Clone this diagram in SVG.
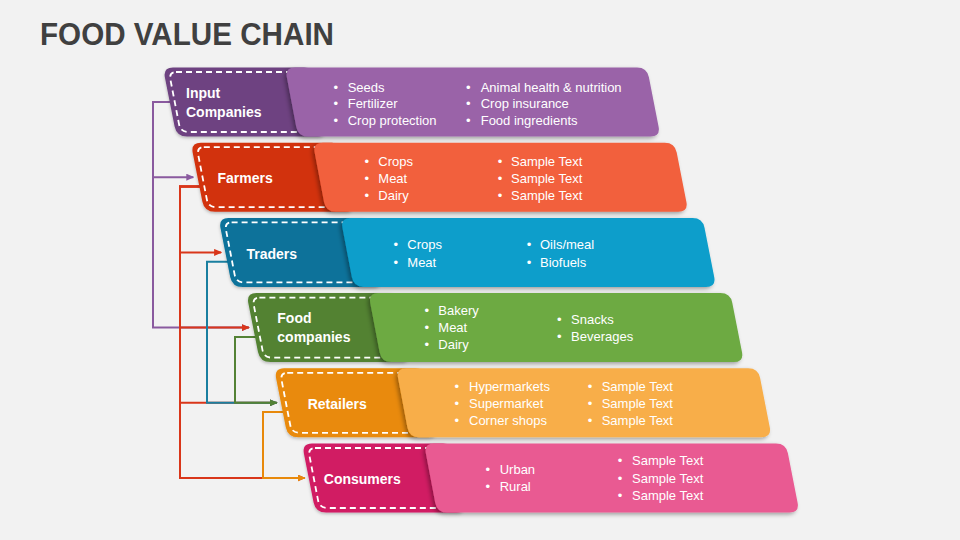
<svg xmlns="http://www.w3.org/2000/svg" width="960" height="540" viewBox="0 0 960 540">
<style>
.title{font-family:"Liberation Sans",Arial,sans-serif;font-weight:bold;font-size:31px;fill:#404040}
.lbl{font-family:"Liberation Sans",Arial,sans-serif;font-weight:bold;font-size:14px;fill:#fff}
.bt{font-family:"Liberation Sans",Arial,sans-serif;font-size:13px;fill:#fff}
.bu{text-anchor:middle}
.dash{fill:none;stroke:#fff;stroke-width:1.8;stroke-dasharray:6 4}
.cn{fill:none;stroke-width:2}
</style>
<defs>
<filter id="shL" x="-10%" y="-20%" width="120%" height="150%">
<feDropShadow dx="-2" dy="2" stdDeviation="2" flood-color="#000" flood-opacity="0.35"/>
</filter>
<filter id="shD" x="-10%" y="-20%" width="120%" height="150%">
<feDropShadow dx="0" dy="1.5" stdDeviation="1.5" flood-color="#000" flood-opacity="0.25"/>
</filter>
<path id="dk" d="M10,0 L141,0 Q150,0 151.68,8.84 L161.42,60.16 Q163.1,69 154.1,69 L24.1,69 Q13.6,69 11.6,59 L1.9,10 Q0,0 10,0 Z"/>
<path id="lt" d="M132,0 L474,0 Q484,0 485.9,9.82 L495.6,59.18 Q497.5,69 487.5,69 L145.1,69 Q135.1,69 133.23,59.18 L123.87,9.82 Q122,0 132,0 Z"/>
<path id="ds" d="M13,4.5 L143,4.5 Q150,4.5 151.31,11.38 L160.09,57.62 Q161.4,64.5 154.4,64.5 L25.4,64.5 Q17.6,64.5 16.1,57 L7.4,12 Q6,4.5 13,4.5 Z"/>
<marker id="aP" viewBox="0 0 8 7" refX="7" refY="3.5" markerWidth="8" markerHeight="7" markerUnits="userSpaceOnUse" orient="auto"><path d="M0,0 L8,3.5 L0,7 Z" fill="#8A5A9F"/></marker>
<marker id="aR" viewBox="0 0 8 7" refX="7" refY="3.5" markerWidth="8" markerHeight="7" markerUnits="userSpaceOnUse" orient="auto"><path d="M0,0 L8,3.5 L0,7 Z" fill="#D9361A"/></marker>
<marker id="aT" viewBox="0 0 8 7" refX="7" refY="3.5" markerWidth="8" markerHeight="7" markerUnits="userSpaceOnUse" orient="auto"><path d="M0,0 L8,3.5 L0,7 Z" fill="#1A7FA0"/></marker>
<marker id="aG" viewBox="0 0 8 7" refX="7" refY="3.5" markerWidth="8" markerHeight="7" markerUnits="userSpaceOnUse" orient="auto"><path d="M0,0 L8,3.5 L0,7 Z" fill="#548235"/></marker>
<marker id="aO" viewBox="0 0 8 7" refX="7" refY="3.5" markerWidth="8" markerHeight="7" markerUnits="userSpaceOnUse" orient="auto"><path d="M0,0 L8,3.5 L0,7 Z" fill="#E8890B"/></marker>
</defs>
<rect width="960" height="540" fill="#F2F2F2"/>
<text class="title" x="40" y="45" textLength="294" lengthAdjust="spacingAndGlyphs">FOOD VALUE CHAIN</text>

<g id="connectors">
<path class="cn" stroke="#8A5A9F" marker-end="url(#aP)" d="M172,102 H153 V177.2 H193.3"/>
<path class="cn" stroke="#8A5A9F" marker-end="url(#aP)" d="M172,102 H153 V327.6 H248.9"/>
<path class="cn" stroke="#D9361A" marker-end="url(#aR)" d="M203,186.5 H180 V252.4 H221.1"/>
<path class="cn" stroke="#D9361A" marker-end="url(#aR)" d="M203,186.5 H180 V327.6 H248.9"/>
<path class="cn" stroke="#D9361A" marker-end="url(#aR)" d="M203,186.5 H180 V402.8 H276.7"/>
<path class="cn" stroke="#D9361A" marker-end="url(#aR)" d="M203,186.5 H180 V478 H304.5"/>
<path class="cn" stroke="#1A7FA0" marker-end="url(#aT)" d="M231,261.7 H207 V402.8 H276.7"/>
<path class="cn" stroke="#548235" marker-end="url(#aG)" d="M258,336.9 H235 V402.8 H276.7"/>
<path class="cn" stroke="#E8890B" marker-end="url(#aO)" d="M286,412.1 H263 V478 H304.5"/>
</g>

<g id="input-companies">
<g transform="translate(163,67.5)">
<use href="#dk" fill="#6E4381" filter="url(#shD)"/>
<use href="#ds" class="dash"/>
<use href="#lt" fill="#9A64A8" filter="url(#shL)"/>
</g>
<text class="lbl" x="186" y="98">Input</text>
<text class="lbl" x="186" y="117">Companies</text>
<text class="bt"><tspan class="bu" x="335.7" y="91.5">•</tspan><tspan x="347.7" y="91.5">Seeds</tspan></text>
<text class="bt"><tspan class="bu" x="335.7" y="108.3">•</tspan><tspan x="347.7" y="108.3">Fertilizer</tspan></text>
<text class="bt"><tspan class="bu" x="335.7" y="125">•</tspan><tspan x="347.7" y="125">Crop protection</tspan></text>
<text class="bt"><tspan class="bu" x="468.3" y="91.5">•</tspan><tspan x="480.7" y="91.5">Animal health &amp; nutrition</tspan></text>
<text class="bt"><tspan class="bu" x="468.3" y="108.3">•</tspan><tspan x="480.7" y="108.3">Crop insurance</tspan></text>
<text class="bt"><tspan class="bu" x="468.3" y="125">•</tspan><tspan x="480.7" y="125">Food ingredients</tspan></text>
</g>

<g id="farmers">
<g transform="translate(190.8,142.7)">
<use href="#dk" fill="#D2330F" filter="url(#shD)"/>
<use href="#ds" class="dash"/>
<use href="#lt" fill="#F2603E" filter="url(#shL)"/>
</g>
<text class="lbl" x="217.5" y="183">Farmers</text>
<text class="bt"><tspan class="bu" x="366.7" y="165.5">•</tspan><tspan x="378.3" y="165.5">Crops</tspan></text>
<text class="bt"><tspan class="bu" x="366.7" y="182.7">•</tspan><tspan x="378.3" y="182.7">Meat</tspan></text>
<text class="bt"><tspan class="bu" x="366.7" y="199.5">•</tspan><tspan x="378.3" y="199.5">Dairy</tspan></text>
<text class="bt"><tspan class="bu" x="500" y="165.5">•</tspan><tspan x="511" y="165.5">Sample Text</tspan></text>
<text class="bt"><tspan class="bu" x="500" y="182.7">•</tspan><tspan x="511" y="182.7">Sample Text</tspan></text>
<text class="bt"><tspan class="bu" x="500" y="199.5">•</tspan><tspan x="511" y="199.5">Sample Text</tspan></text>
</g>

<g id="traders">
<g transform="translate(218.6,217.9)">
<use href="#dk" fill="#08729A" filter="url(#shD)"/>
<use href="#ds" class="dash"/>
<use href="#lt" fill="#099ECB" filter="url(#shL)"/>
</g>
<text class="lbl" x="246.5" y="258.6">Traders</text>
<text class="bt"><tspan class="bu" x="395.7" y="249.2">•</tspan><tspan x="407.3" y="249.2">Crops</tspan></text>
<text class="bt"><tspan class="bu" x="395.7" y="266.5">•</tspan><tspan x="407.3" y="266.5">Meat</tspan></text>
<text class="bt"><tspan class="bu" x="529" y="249.2">•</tspan><tspan x="540" y="249.2">Oils/meal</tspan></text>
<text class="bt"><tspan class="bu" x="529" y="266.5">•</tspan><tspan x="540" y="266.5">Biofuels</tspan></text>
</g>

<g id="food-companies">
<g transform="translate(246.4,293.1)">
<use href="#dk" fill="#538233" filter="url(#shD)"/>
<use href="#ds" class="dash"/>
<use href="#lt" fill="#6DAA43" filter="url(#shL)"/>
</g>
<text class="lbl" x="277.3" y="323.3">Food</text>
<text class="lbl" x="277.3" y="342.3">companies</text>
<text class="bt"><tspan class="bu" x="426.7" y="315.3">•</tspan><tspan x="438.3" y="315.3">Bakery</tspan></text>
<text class="bt"><tspan class="bu" x="426.7" y="332.3">•</tspan><tspan x="438.3" y="332.3">Meat</tspan></text>
<text class="bt"><tspan class="bu" x="426.7" y="349.3">•</tspan><tspan x="438.3" y="349.3">Dairy</tspan></text>
<text class="bt"><tspan class="bu" x="559.3" y="323.6">•</tspan><tspan x="571" y="323.6">Snacks</tspan></text>
<text class="bt"><tspan class="bu" x="559.3" y="340.8">•</tspan><tspan x="571" y="340.8">Beverages</tspan></text>
</g>

<g id="retailers">
<g transform="translate(274.2,368.3)">
<use href="#dk" fill="#E98A09" filter="url(#shD)"/>
<use href="#ds" class="dash"/>
<use href="#lt" fill="#F8AE49" filter="url(#shL)"/>
</g>
<text class="lbl" x="307.7" y="409">Retailers</text>
<text class="bt"><tspan class="bu" x="456.7" y="391">•</tspan><tspan x="469" y="391">Hypermarkets</tspan></text>
<text class="bt"><tspan class="bu" x="456.7" y="408">•</tspan><tspan x="469" y="408">Supermarket</tspan></text>
<text class="bt"><tspan class="bu" x="456.7" y="425">•</tspan><tspan x="469" y="425">Corner shops</tspan></text>
<text class="bt"><tspan class="bu" x="590" y="391">•</tspan><tspan x="601.7" y="391">Sample Text</tspan></text>
<text class="bt"><tspan class="bu" x="590" y="408">•</tspan><tspan x="601.7" y="408">Sample Text</tspan></text>
<text class="bt"><tspan class="bu" x="590" y="425">•</tspan><tspan x="601.7" y="425">Sample Text</tspan></text>
</g>

<g id="consumers">
<g transform="translate(302,443.5)">
<use href="#dk" fill="#D11C63" filter="url(#shD)"/>
<use href="#ds" class="dash"/>
<use href="#lt" fill="#E95A92" filter="url(#shL)"/>
</g>
<text class="lbl" x="323.8" y="483.5">Consumers</text>
<text class="bt"><tspan class="bu" x="487.7" y="473.5">•</tspan><tspan x="499.7" y="473.5">Urban</tspan></text>
<text class="bt"><tspan class="bu" x="487.7" y="490.7">•</tspan><tspan x="499.7" y="490.7">Rural</tspan></text>
<text class="bt"><tspan class="bu" x="620" y="465.3">•</tspan><tspan x="632" y="465.3">Sample Text</tspan></text>
<text class="bt"><tspan class="bu" x="620" y="482.5">•</tspan><tspan x="632" y="482.5">Sample Text</tspan></text>
<text class="bt"><tspan class="bu" x="620" y="499.5">•</tspan><tspan x="632" y="499.5">Sample Text</tspan></text>
</g>
</svg>
